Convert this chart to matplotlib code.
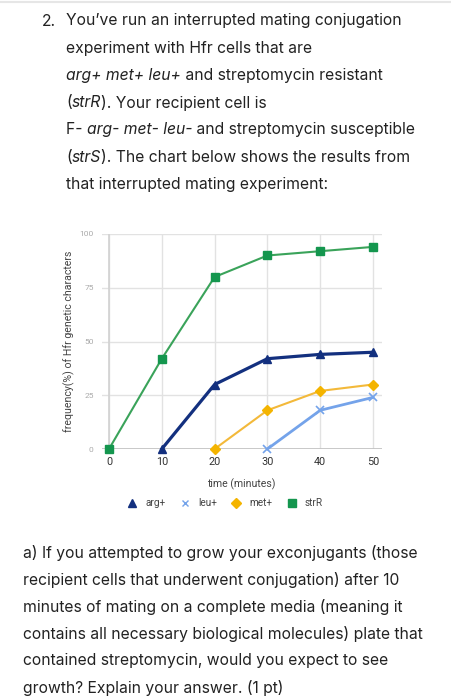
import matplotlib
matplotlib.use('Agg')
import matplotlib.pyplot as plt
from matplotlib.lines import Line2D

W, H = 452, 700

# chart data (time in minutes, frequency in %)
strr_t = [0, 10, 20, 30, 40, 50]
strr_v = [0, 42, 80, 90, 92, 94]
arg_t = [10, 20, 30, 40, 50]
arg_v = [0, 30, 42, 44, 45]
met_t = [20, 30, 40, 50]
met_v = [0, 18, 27, 30]
leu_t = [30, 40, 50]
leu_v = [0, 18, 24]

x_ticks = [0, 10, 20, 30, 40, 50]
y_ticks = [0, 25, 50, 75, 100]

top_lines = [
    [("You\u2019ve run an interrupted mating conjugation", "normal")],
    [("experiment with Hfr cells that are", "normal")],
    [("arg+ met+ leu+", "italic"), (" and streptomycin resistant", "normal")],
    [("(", "normal"), ("strR", "italic"), ("). Your recipient cell is", "normal")],
    [("F- ", "normal"), ("arg- met- leu-", "italic"), (" and streptomycin susceptible", "normal")],
    [("(", "normal"), ("strS", "italic"), ("). The chart below shows the results from", "normal")],
    [("that interrupted mating experiment:", "normal")],
]
bottom_lines = [
    "a) If you attempted to grow your exconjugants (those",
    "recipient cells that underwent conjugation) after 10",
    "minutes of mating on a complete media (meaning it",
    "contains all necessary biological molecules) plate that",
    "contained streptomycin, would you expect to see",
    "growth? Explain your answer. (1 pt)",
]

BODY_FONT = ['Inter', 'DejaVu Sans']
BODY_SIZE = 11.3
TEXT_COLOR = '#222222'

fig = plt.figure(figsize=(W / 100, H / 100), dpi=100)
renderer = fig.canvas.get_renderer()


def fx(x):
    return x / W


def fy(y):
    return 1 - y / H


def rich_line(x_px, y_px, segments):
    # draw one line made of normal/italic pieces, placed side by side
    x = x_px
    for txt, style in segments:
        t = fig.text(fx(x), fy(y_px), txt, fontsize=BODY_SIZE, style=style,
                     family=BODY_FONT, color=TEXT_COLOR, va='center', ha='left')
        x += t.get_window_extent(renderer).width


# thin border at the very top of the screenshot
fig.add_artist(Line2D([0, 1], [fy(1.5), fy(1.5)], color='#e6e6e6', lw=1.5))

fig.text(fx(42), fy(21), "2.", fontsize=BODY_SIZE, family=BODY_FONT,
         color=TEXT_COLOR, va='center', ha='left')
for i, segs in enumerate(top_lines):
    rich_line(66, 21 + i * 27.2, segs)

for i, line in enumerate(bottom_lines):
    fig.text(fx(23), fy(553 + i * 27), line, fontsize=BODY_SIZE, family=BODY_FONT,
             color=TEXT_COLOR, va='center', ha='left')

# chart area
ax_left, ax_right, ax_top, ax_bottom = 102, 382, 234, 449
ax = fig.add_axes([fx(ax_left), fy(ax_bottom), (ax_right - ax_left) / W,
                   (ax_bottom - ax_top) / H])
x0_px, x50_px = 109, 373
ppu = (x50_px - x0_px) / 50
ax.set_xlim(-(x0_px - ax_left) / ppu, 50 + (ax_right - x50_px) / ppu)
ax.set_ylim(0, 100)

for s in ax.spines.values():
    s.set_visible(False)
ax.set_xticks(x_ticks)
ax.set_yticks(y_ticks)
ax.grid(True, color='#e2e2e2', lw=1)
ax.axhline(0, color='#c4c4c4', lw=1.3, zorder=1)
ax.axvline(0, color='#d2d2d2', lw=1.2, zorder=1)
ax.set_axisbelow(True)
ax.tick_params(length=0)
ax.tick_params(axis='x', labelsize=7.8, labelcolor='#333333', pad=6)
ax.tick_params(axis='y', labelsize=6, labelcolor='#aaaaaa', pad=6)
for lab in ax.get_xticklabels() + ax.get_yticklabels():
    lab.set_family('Roboto')

ax.plot(strr_t, strr_v, color='#3aa35a', lw=1.5, marker='s', ms=5.6,
        mfc='#14964e', mec='#14964e', clip_on=False, zorder=3)
ax.plot(arg_t, arg_v, color='#13307f', lw=2.3, marker='^', ms=6.3,
        mfc='#13307f', mec='#13307f', clip_on=False, zorder=4)
ax.plot(met_t, met_v, color='#f3b93a', lw=1.5, marker='D', ms=5.3,
        mfc='#f4b400', mec='#f4b400', clip_on=False, zorder=3)
ax.plot(leu_t, leu_v, color='#74a3ea', lw=2.0, marker='x', ms=5.5, mew=1.2,
        clip_on=False, zorder=3)

ax.set_ylabel("frequency(%) of Hfr genetic characters", fontsize=7.6,
              color='#444444', family='Roboto', labelpad=3)
fig.text(fx(241), fy(484), "time (minutes)", fontsize=7.6, color='#444444',
         family='Roboto', ha='center', va='center')

handles = [
    Line2D([], [], ls='none', marker='^', ms=6, color='#13307f'),
    Line2D([], [], ls='none', marker='x', ms=5, mew=1.0, color='#74a3ea'),
    Line2D([], [], ls='none', marker='D', ms=5.5, color='#f4b400'),
    Line2D([], [], ls='none', marker='s', ms=5.5, color='#14964e'),
]
fig.legend(handles, ["arg+", "leu+", "met+", "strR"], ncol=4,
           loc='center', bbox_to_anchor=(fx(225), fy(503)), frameon=False,
           handlelength=1.0, handletextpad=0.8, columnspacing=1.45,
           labelcolor='#444444', prop={'family': 'Roboto', 'size': 7.2})

fig.savefig('out.png', dpi=100)
